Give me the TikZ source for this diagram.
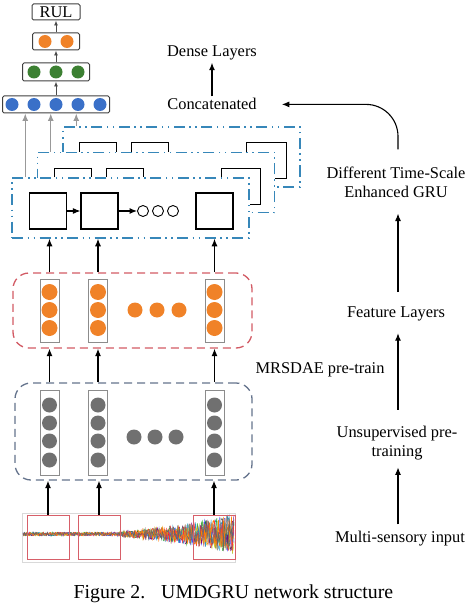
\documentclass[tikz,border=0pt]{standalone}
\usepackage{fontspec}
\setmainfont{Liberation Serif}
\usetikzlibrary{arrows.meta,positioning}

\definecolor{nnblue}{RGB}{58,112,200}
\definecolor{nngreen}{RGB}{60,128,50}
\definecolor{nnorange}{RGB}{240,130,40}
\definecolor{nngray}{RGB}{112,112,112}
\definecolor{grublue}{RGB}{55,135,185}
\definecolor{daered}{RGB}{210,90,100}
\definecolor{daegray}{RGB}{100,115,140}
\definecolor{winred}{RGB}{215,95,105}

\tikzset{
  lbl/.style={font=\fontsize{16.4}{19}\selectfont, inner sep=2pt, align=center},
  arr/.style={-{Latex[length=7.5pt,width=6pt]}, line width=1.1pt},
  garr/.style={arr, draw=black!40},
  darr/.style={-{Latex[length=5pt,width=4pt]}, line width=0.9pt, draw=black!70},
  dbox/.style={draw=black!75, line width=1pt, rounded corners=1.5pt, fill=white, inner sep=0pt},
  neuron/.style={circle, fill=#1, inner sep=0pt, minimum size=13pt},
  col/.style={draw=black!45, line width=0.9pt, minimum width=19pt, inner sep=0pt},
  grulayer/.style={draw=grublue, line width=1.5pt, fill=white, minimum width=237pt, minimum height=60pt,
    dash pattern=on 11pt off 4.5pt on 1.5pt off 4.5pt on 1.5pt off 4.5pt},
  cell/.style={draw, line width=1.2pt, minimum width=37pt, minimum height=36pt},
  skip/.style={line width=1.3pt},
  daebox/.style={draw=#1, line width=1.3pt, rounded corners=16pt, dash pattern=on 8pt off 5pt},
  window/.style={draw=winred, line width=0.9pt, minimum width=42pt, minimum height=44pt, inner sep=0pt},
}

\begin{document}
\begin{tikzpicture}[x=1pt,y=-1pt]
\useasboundingbox (0,0) rectangle (474,604);

% dense layers and output
\node[dbox, minimum width=48pt, minimum height=16pt, font=\fontsize{16.4}{19}\selectfont] (rul) at (56,12) {RUL};
\node[dbox, minimum width=47pt, minimum height=17pt] (dl3) at (56,41.5) {};
\node[dbox, minimum width=67pt, minimum height=18pt] (dl2) at (56,72) {};
\node[dbox, minimum width=107pt, minimum height=17pt] (dl1) at (56,104.5) {};
\foreach \x in {45,67} \node[neuron=nnorange] at (\x,41.5) {};
\foreach \x in {34,56,78} \node[neuron=nngreen] at (\x,72) {};
\foreach \x in {12,34,56,78,100} \node[neuron=nnblue] at (\x,104.5) {};
\draw[darr] (dl3) -- (rul);
\draw[darr] (dl2) -- (dl3);
\draw[darr] (dl1) -- (dl2);

% GRU layers, back to front
\node[grulayer] (gru3) at (181.5,157) {};
\node[grulayer] (gru2) at (156,182.5) {};
\draw[skip] ([xshift=43pt]gru2.north west) -- ++(0,-9) -| ([xshift=80pt]gru2.north west);
\draw[skip] ([xshift=95pt]gru2.north west) -- ++(0,-9) -| ([xshift=132pt]gru2.north west);
\draw[skip] ([xshift=210pt]gru2.north west) -- ++(0,-9) -| ([xshift=11pt,yshift=-27pt]gru2.north east) -- ([yshift=-27pt]gru2.north east);
\node[grulayer] (gru1) at (130.5,208) {};
\draw[skip] ([xshift=43pt]gru1.north west) -- ++(0,-9) -| ([xshift=80pt]gru1.north west);
\draw[skip] ([xshift=95pt]gru1.north west) -- ++(0,-9) -| ([xshift=132pt]gru1.north west);
\draw[skip] ([xshift=210pt]gru1.north west) -- ++(0,-9) -| ([xshift=11pt,yshift=-27pt]gru1.north east) -- ([yshift=-27pt]gru1.north east);

\node[cell] (c1) at (48,211) {};
\node[cell] (c2) at (99.5,211) {};
\node[cell] (cn) at (214.5,211) {};
\foreach \i/\x in {1/143,2/158,3/173}
  \node[circle, draw, line width=0.9pt, minimum size=11pt, inner sep=0pt] (o\i) at (\x,211) {};
\draw[arr] (c1) -- (c2);
\draw[arr] (c2) -- (o1);

% outputs of each time scale to the dense layers
\foreach \g in {gru1,gru2,gru3} {
  \coordinate (\g out) at ([xshift=14pt]\g.north west);
  \draw[garr] (\g out) -- (\g out |- dl1.south);
}

% MRSDAE blocks
\node[daebox=daered, minimum width=239pt, minimum height=75pt] (dae2) at (132.5,310.5) {};
\node[daebox=daegray, minimum width=237pt, minimum height=97pt] (dae1) at (133.5,431.5) {};
\foreach \i/\x in {1/49.5,2/98,3/214.5} {
  \node[col, minimum height=63pt] (oc\i) at (\x,310.5) {};
  \foreach \y in {292,310,328} \node[neuron=nnorange, minimum size=16pt] at (\x,\y) {};
  \node[col, minimum height=85pt] (gc\i) at (\x,432.5) {};
  \foreach \y in {405,423,441,460} \node[neuron=nngray, minimum size=15pt] at (\x,\y) {};
}
\foreach \x in {135,157,179} \node[neuron=nnorange, minimum size=15pt] at (\x,310) {};
\foreach \x in {134,155,176} \node[neuron=nngray, minimum size=15pt] at (\x,437) {};

% multi-sensory signal
\node[draw=black!15, line width=0.8pt, minimum width=213pt, minimum height=49pt, inner sep=0pt] (sig) at (128.5,537.5) {};
\pgfmathsetseed{42}
\foreach \c in {green!60!black, blue!70, violet, yellow!80!black, cyan!80!black, red!80, orange, black!60}
  \draw[draw=\c, line width=0.45pt] plot[domain=23:234, samples=260]
    (\x, {534 + (1.8 + 8*max(0,\x-110)/124 + 10*(max(0,\x-110)/124)^2)*rand});
\node[window] (w1) at (48,537) {};
\node[window] (w2) at (99,537) {};
\node[window] (w3) at (214,537) {};

\foreach \i in {1,2,3} {
  \draw[arr] (oc\i |- dae2.north) -- (oc\i |- gru1.south);
  \draw[arr] (gc\i |- dae1.north) -- (gc\i |- dae2.south);
  \draw[arr] (w\i.north) -- (w\i |- dae1.south);
}

% right column
\coordinate (axis) at (398,0);
\node[lbl, anchor=base] (dense) at (212,57) {Dense Layers};
\node[lbl, anchor=base] (concat) at (212,110) {Concatenated};
\node[lbl] (dtgru) at (396,182) {Different Time-Scale\\Enhanced GRU};
\node[lbl, anchor=base] (feat) at (396,317) {Feature Layers};
\node[lbl, anchor=base] (mrsdae) at (320,373) {MRSDAE pre-train};
\node[lbl] (unsup) at (397,442.7) {Unsupervised pre-\\training};
\node[lbl, anchor=base] (msi) at (400,542) {Multi-sensory input};
\draw[arr] (concat) -- (dense);
\draw[arr, rounded corners=32pt, shorten <=15pt, shorten >=23pt] (dtgru.north -| axis) |- (concat.east);
\draw[arr, shorten <=12pt, shorten >=14pt] (feat.north -| axis) -- (dtgru.south -| axis);
\draw[arr, shorten <=14pt, shorten >=10.5pt] (unsup.north -| axis) -- (feat.south -| axis);
\draw[arr, shorten <=4pt, shorten >=5.5pt] (msi.north -| axis) -- (unsup.south -| axis);

\node[font=\fontsize{19.8}{24}\selectfont, anchor=base] (caption) at (233.5,598) {Figure 2.\hspace{16pt}UMDGRU network structure};
\end{tikzpicture}
\end{document}
